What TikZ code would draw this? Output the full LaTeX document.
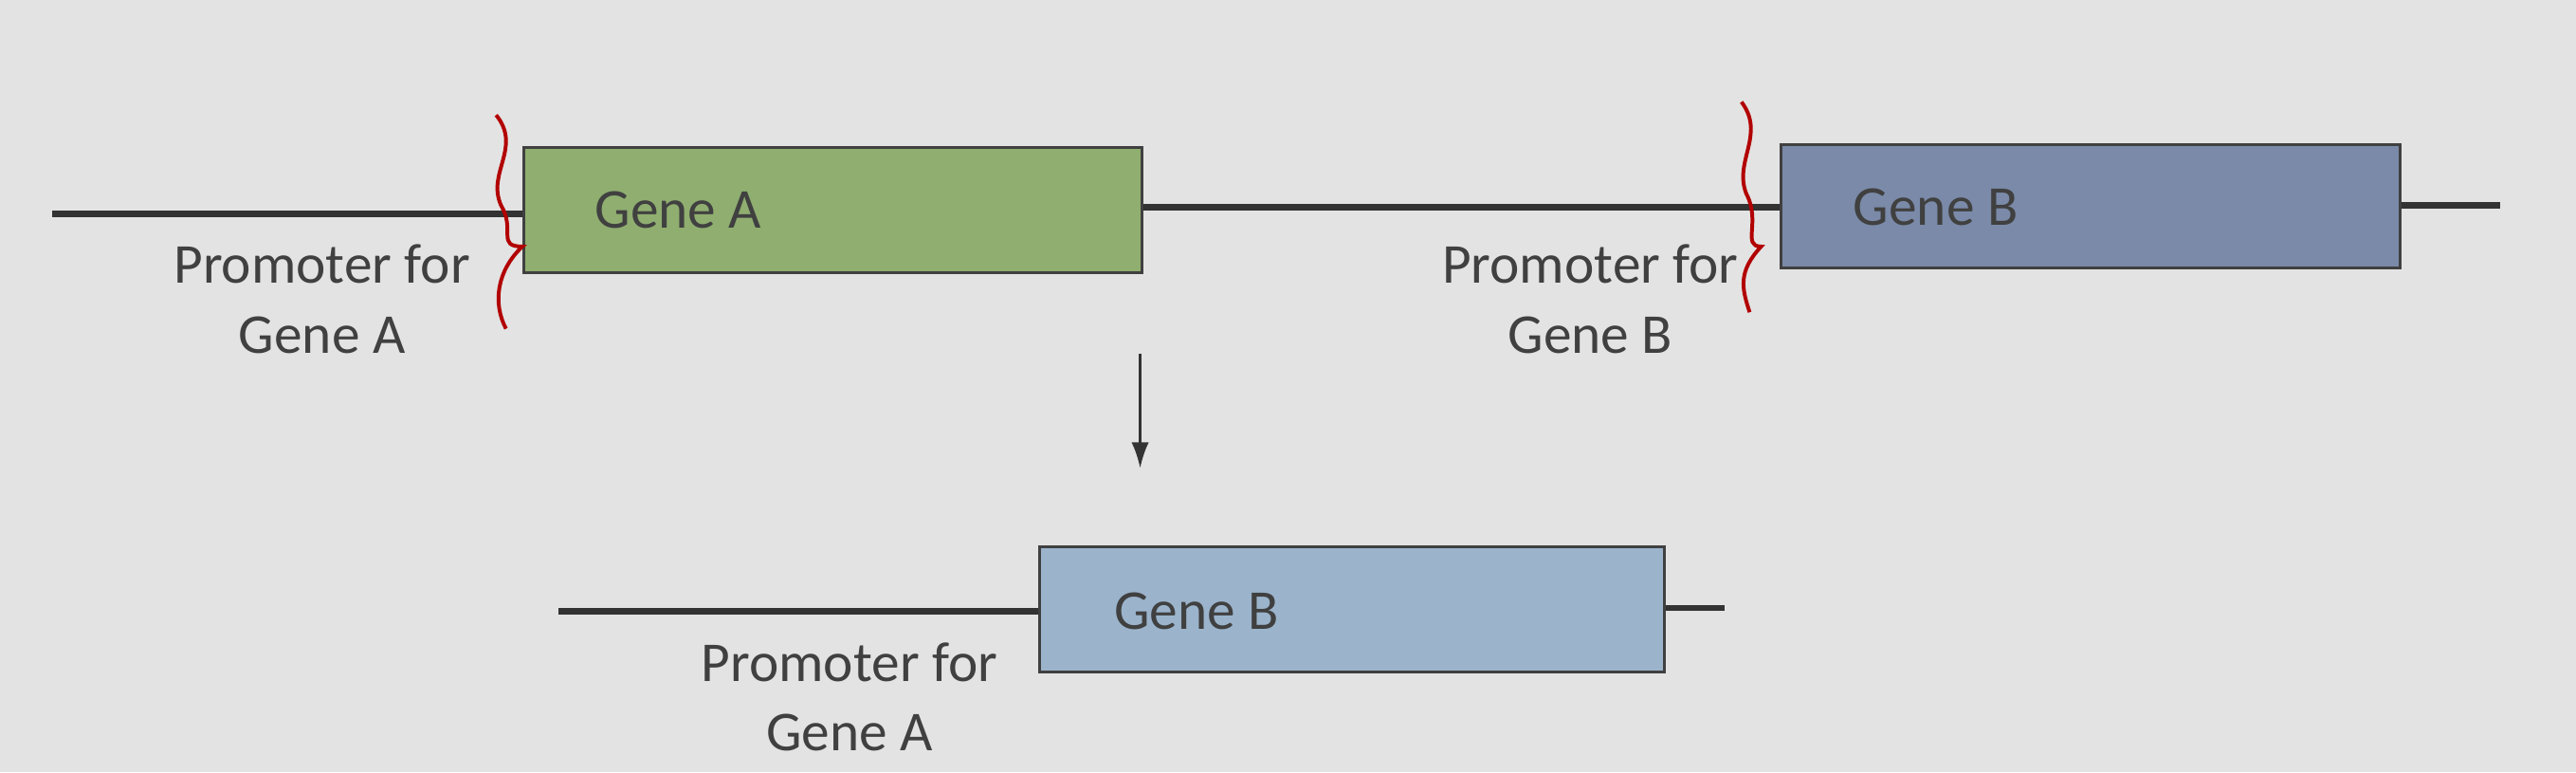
\documentclass[tikz,border=0pt]{standalone}
\usepackage{fontspec}
\usetikzlibrary{arrows.meta}
\setmainfont{Carlito}
\begin{document}
\begin{tikzpicture}[x=0.02cm,y=-0.02cm,
  dna/.style={line width=2.2pt,black!80},
  gene/.style={draw=black!75,line width=1pt,inner sep=0pt,anchor=north west},
  lbl/.style={font=\fontsize{19.5}{24}\selectfont,text=black!75,align=center},
  brk/.style={draw=red!70!black,line width=1.3pt}]
\useasboundingbox (0,0) rectangle (1568,470);
\fill[gray!22] (0,0) rectangle (1568,470);
% top row
\node[gene,fill={rgb,255:red,143;green,174;blue,112},minimum width=376*0.02cm,minimum height=76*0.02cm] (ga) at (318,89) {};
\node[gene,fill={rgb,255:red,122;green,138;blue,168},minimum width=377*0.02cm,minimum height=75*0.02cm] (gb) at (1083,87) {};
\coordinate (l0) at (32,130);
\coordinate (r0) at (1522,125);
\draw[dna] (l0) -- (ga.west|-l0);
\draw[dna] (ga.east|-0,126) -- (gb.west|-0,126);
\draw[dna] (gb.east|-r0) -- (r0);
\node[lbl,anchor=west] (ta) at (356,128) {Gene A};
\node[lbl,anchor=west] (tb) at (1122,126) {Gene B};
\node[lbl] (pa) at (196,182) {Promoter for\\Gene A};
\node[lbl] (pb) at (968,182) {Promoter for\\Gene B};
% red breaks
\draw[brk] (302,70) .. controls (318,90) and (296,105) .. (305,125) .. controls (314,140) and (302,150) .. (318,150) .. controls (302,165) and (300,185) .. (308,200);
\draw[brk] (1060,62) .. controls (1075,82) and (1055,98) .. (1063,118) .. controls (1072,135) and (1060,150) .. (1072,150) .. controls (1058,165) and (1060,175) .. (1065,190);
% arrow
\coordinate (a1) at (694,215);
\coordinate (a2) at (694,285);
\draw[-{Latex[length=9pt,width=6pt]},line width=1pt,black!80] (a1) -- (a2);
% bottom row
\node[gene,fill={rgb,255:red,155;green,180;blue,204},minimum width=380*0.02cm,minimum height=76*0.02cm] (gc) at (632,332) {};
\coordinate (l1) at (340,372);
\coordinate (r1) at (1050,370);
\draw[dna] (l1) -- (gc.west|-l1);
\draw[dna] (gc.east|-r1) -- (r1);
\node[lbl,anchor=west] (tc) at (672,372) {Gene B};
\node[lbl] (pc) at (517,424) {Promoter for\\Gene A};
\end{tikzpicture}
\end{document}
